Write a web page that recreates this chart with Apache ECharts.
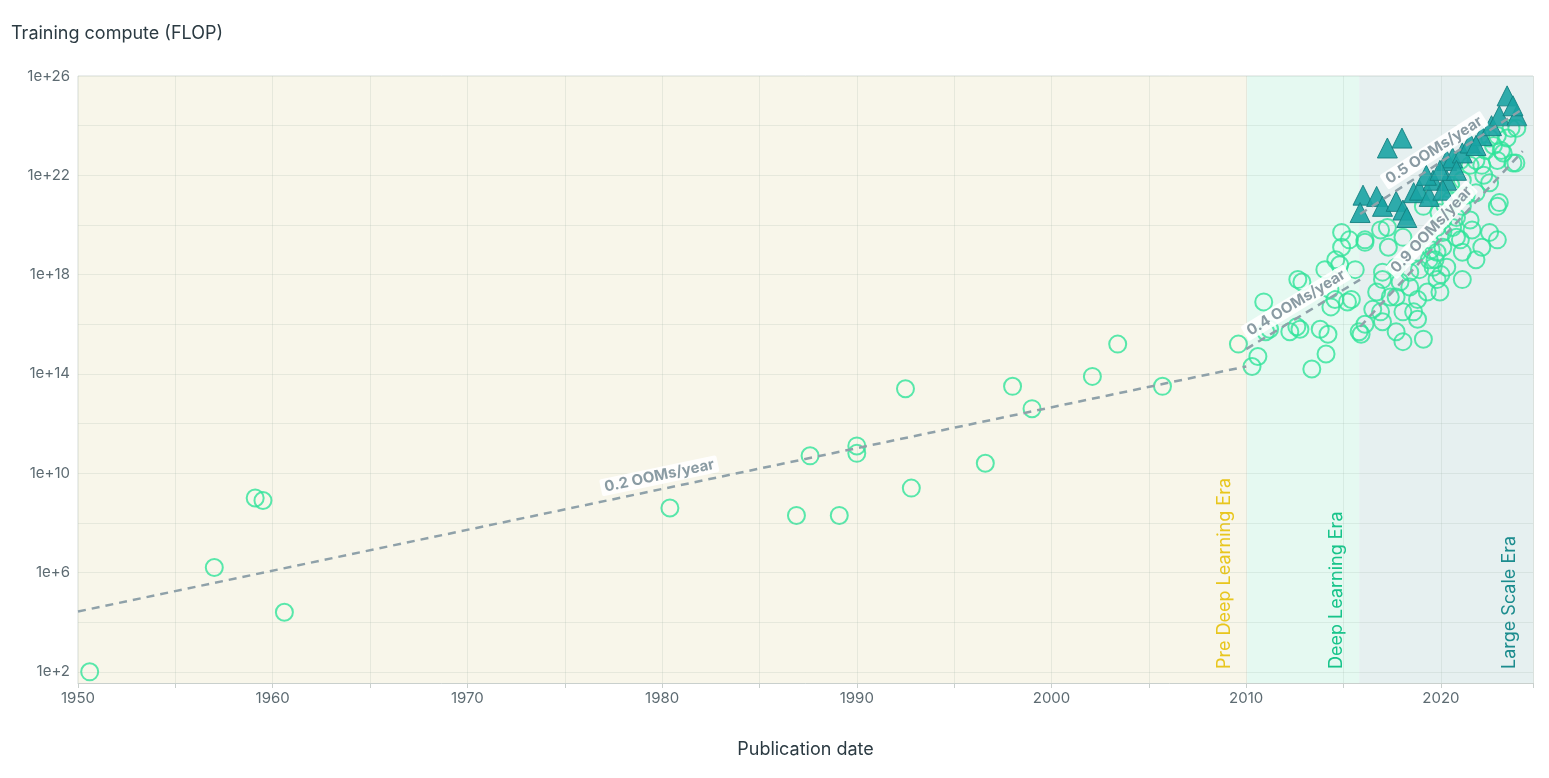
<!DOCTYPE html>
<html>
<head>
<meta charset="utf-8">
<script src="https://cdn.jsdelivr.net/npm/echarts@6/dist/echarts.min.js"></script>
<style>
  html, body { margin: 0; padding: 0; background: #fff; }
  #chart { width: 1549px; height: 778px; }
</style>
</head>
<body>
<div id="chart"></div>
<script>
// [publication year, log10(training compute FLOP)]
const systems = [
  [1950.6, 2.0], [1957.0, 6.2], [1959.1, 9.0], [1959.5, 8.9], [1960.6, 4.4],
  [1980.4, 8.6], [1986.9, 8.3], [1987.6, 10.7], [1989.1, 8.3], [1990.0, 11.1],
  [1990.0, 10.8], [1992.5, 13.4], [1992.8, 9.4], [1996.6, 10.4], [1998.0, 13.5],
  [1999.0, 12.6], [2002.1, 13.9], [2003.4, 15.2], [2005.7, 13.5], [2009.6, 15.2],
  [2010.3, 14.3], [2010.6, 14.7], [2010.9, 16.9], [2011.0, 15.7],
  [2011.2, 15.8], [2012.65, 17.8], [2012.86, 17.7], [2012.24, 15.7], [2012.6, 15.9],
  [2012.76, 15.8], [2013.37, 14.2], [2013.8, 15.8], [2014.1, 14.8], [2014.2, 15.6],
  [2014.04, 18.2], [2014.35, 16.7], [2014.56, 17.0], [2014.3, 17.4], [2014.8, 18.4],
  [2014.9, 19.1], [2014.6, 18.6], [2015.2, 16.9], [2015.4, 17.0], [2014.9, 19.7],
  [2015.3, 19.4], [2015.6, 18.2], [2016.1, 19.4], [2015.8, 15.7], [2015.9, 15.6],
  [2016.1, 16.0],
  [2016.1, 19.3], [2016.9, 19.8], [2017.25, 19.9], [2017.3, 19.1], [2018.05, 19.5],
  [2017.0, 18.1], [2017.9, 17.7], [2018.4, 17.5], [2018.8, 17.0], [2017.4, 17.1],
  [2016.7, 17.3], [2016.9, 16.5], [2017.0, 16.1], [2018.05, 16.5], [2018.8, 16.2],
  [2017.7, 15.7], [2019.1, 15.4], [2018.05, 15.3], [2019.4, 18.6], [2019.8, 18.9],
  [2020.1, 19.1], [2019.6, 18.3], [2020.3, 18.3], [2021.1, 17.8], [2019.8, 17.8],
  [2019.95, 17.3], [2021.0, 19.4], [2021.6, 19.8], [2022.1, 19.1], [2022.5, 19.7],
  [2021.8, 18.6], [2022.9, 19.4], [2023.0, 20.9], [2022.9, 20.75], [2021.1, 20.75],
  [2021.5, 20.2], [2020.8, 20.3], [2020.1, 20.2], [2020.5, 21.6], [2021.1, 21.8],
  [2021.5, 22.4], [2021.8, 22.6], [2022.5, 23.5], [2022.9, 23.6], [2023.4, 23.5],
  [2023.9, 23.9], [2023.7, 22.5], [2022.9, 22.6], [2022.1, 22.4], [2023.2, 22.9],
  [2022.5, 21.7], [2021.8, 21.3], [2019.6, 21.3], [2019.1, 20.75], [2020.1, 19.7],
  [2020.8, 19.5], [2021.1, 18.9], [2018.8, 18.9], [2019.4, 19.4], [2019.8, 19.9],
  [2017.7, 18.3], [2018.4, 18.1], [2017.7, 17.1], [2018.6, 16.5], [2016.5, 16.6],
  [2017.0, 17.8], [2019.3, 17.3], [2023.85, 22.5], [2023.6, 23.9], [2018.9, 18.2],
  [2020.5, 21.0], [2022.3, 23.0], [2021.0, 22.6],
  [2019.7, 18.6], [2020.0, 18.0], [2019.5, 19.0], [2020.6, 19.9], [2021.3, 21.2],
  [2022.2, 22.0], [2022.7, 23.2], [2023.1, 23.0], [2020.2, 20.8], [2019.9, 20.5]
];
const largeScaleSystems = [
  [2017.25, 23.1], [2018.0, 23.5], [2016.0, 21.2], [2015.85, 20.5], [2016.7, 21.15],
  [2017.0, 20.75], [2017.7, 20.95], [2018.05, 20.6], [2018.25, 20.3], [2018.6, 21.3],
  [2018.9, 21.4], [2019.4, 21.15], [2019.6, 21.8], [2020.3, 22.6], [2020.6, 22.7],
  [2021.1, 22.9], [2021.5, 23.3], [2022.1, 23.6], [2022.6, 24.0], [2023.0, 24.4],
  [2023.4, 25.2], [2023.9, 24.4], [2023.7, 24.8], [2020.3, 21.8], [2019.25, 22.0],
  [2020.1, 21.4], [2019.95, 22.2], [2020.8, 22.2], [2021.8, 23.2]
];
// trend lines: [start, end, label]
const trends = [
  [[1950.0, 4.43], [2010.0, 14.3], '0.2 OOMs/year'],
  [[2010.0, 15.0], [2015.85, 17.8], '0.4 OOMs/year'],
  [[2015.85, 20.44], [2024.2, 24.67], '0.5 OOMs/year'],
  [[2015.85, 15.9], [2024.2, 22.97], '0.9 OOMs/year']
];
const eras = [
  [1950, 2010.05, 'Pre Deep Learning Era', '#f8f6ea', '#e8c61e'],
  [2010.05, 2015.8, 'Deep Learning Era', '#e5f9f1', '#17c48a'],
  [2015.8, 2024.73, 'Large Scale Era', '#e6f0f0', '#1c8c8e']
];
const yTicks = [2, 4, 6, 8, 10, 12, 14, 16, 18, 20, 22, 24, 26];
const yLabels = [2, 6, 10, 14, 18, 22, 26];

const chart = echarts.init(document.getElementById('chart'));
chart.setOption({
  animation: false,
  textStyle: { fontFamily: 'Inter, "Noto Sans", sans-serif' },
  title: {
    text: 'Training compute (FLOP)', left: 6, top: 20,
    textStyle: { fontSize: 18, fontWeight: 'normal', color: '#2b3a42' }
  },
  grid: { left: 78, right: 16, top: 76, bottom: 95, show: true, borderColor: '#d5dbd8', borderWidth: 1 },
  xAxis: {
    type: 'value', min: 1950, max: 2024.73, interval: 5, z: 5,
    name: 'Publication date', nameLocation: 'middle', nameGap: 58,
    nameTextStyle: { fontSize: 18, color: '#2b3a42' },
    axisLine: { lineStyle: { color: '#c9d0cd' } },
    axisTick: { show: true, lineStyle: { color: '#c9d0cd' } },
    axisLabel: { color: '#5d6b72', fontSize: 15, formatter: v => v % 10 === 0 ? String(v) : '' },
    splitLine: { lineStyle: { color: 'rgba(150,170,160,0.18)' } }
  },
  yAxis: {
    type: 'value', min: 1.55, max: 26, z: 5,
    axisLine: { show: false },
    axisTick: { show: false, customValues: yTicks },
    axisLabel: { customValues: yLabels, color: '#5d6b72', fontSize: 15, formatter: v => '1e+' + v },
    splitLine: { lineStyle: { color: 'rgba(150,170,160,0.18)' } }
  },
  series: [
    {
      type: 'scatter', data: [], silent: true, z: 0,
      markArea: {
        silent: true,
        data: eras.map(e => [
          { xAxis: e[0], yAxis: 1.55, itemStyle: { color: e[3] },
            label: { show: true, formatter: e[2], color: e[4], fontSize: 18, rotate: 90,
                     position: 'insideBottomRight', align: 'left', verticalAlign: 'bottom', distance: 14 } },
          { xAxis: e[1], yAxis: 26 }
        ])
      }
    },
    {
      type: 'line', data: [], silent: true, z: 6,
      markLine: {
        silent: true, symbol: 'none',
        lineStyle: { type: [8, 6], color: '#8fa1a9', width: 2.5 },
        data: trends.map(t => [
          { coord: t[0], label: { show: true, formatter: t[2], position: 'middle', color: '#8a9ba3',
              fontSize: 15, fontWeight: 'bold', backgroundColor: 'rgba(255,255,255,0.9)',
              padding: [1, 4], borderRadius: 2 } },
          { coord: t[1] }
        ])
      }
    },
    {
      type: 'scatter', data: systems, symbol: 'circle', symbolSize: 17, z: 3,
      itemStyle: { color: 'rgba(255,255,255,0)', borderColor: '#2fe39a', borderWidth: 2 }
    },
    {
      type: 'scatter', data: largeScaleSystems, symbol: 'triangle', symbolSize: 20, z: 4,
      itemStyle: { color: '#1aa3a3', borderColor: '#137f80', borderWidth: 1, opacity: 0.9 }
    }
  ]
});
</script>
</body>
</html>
